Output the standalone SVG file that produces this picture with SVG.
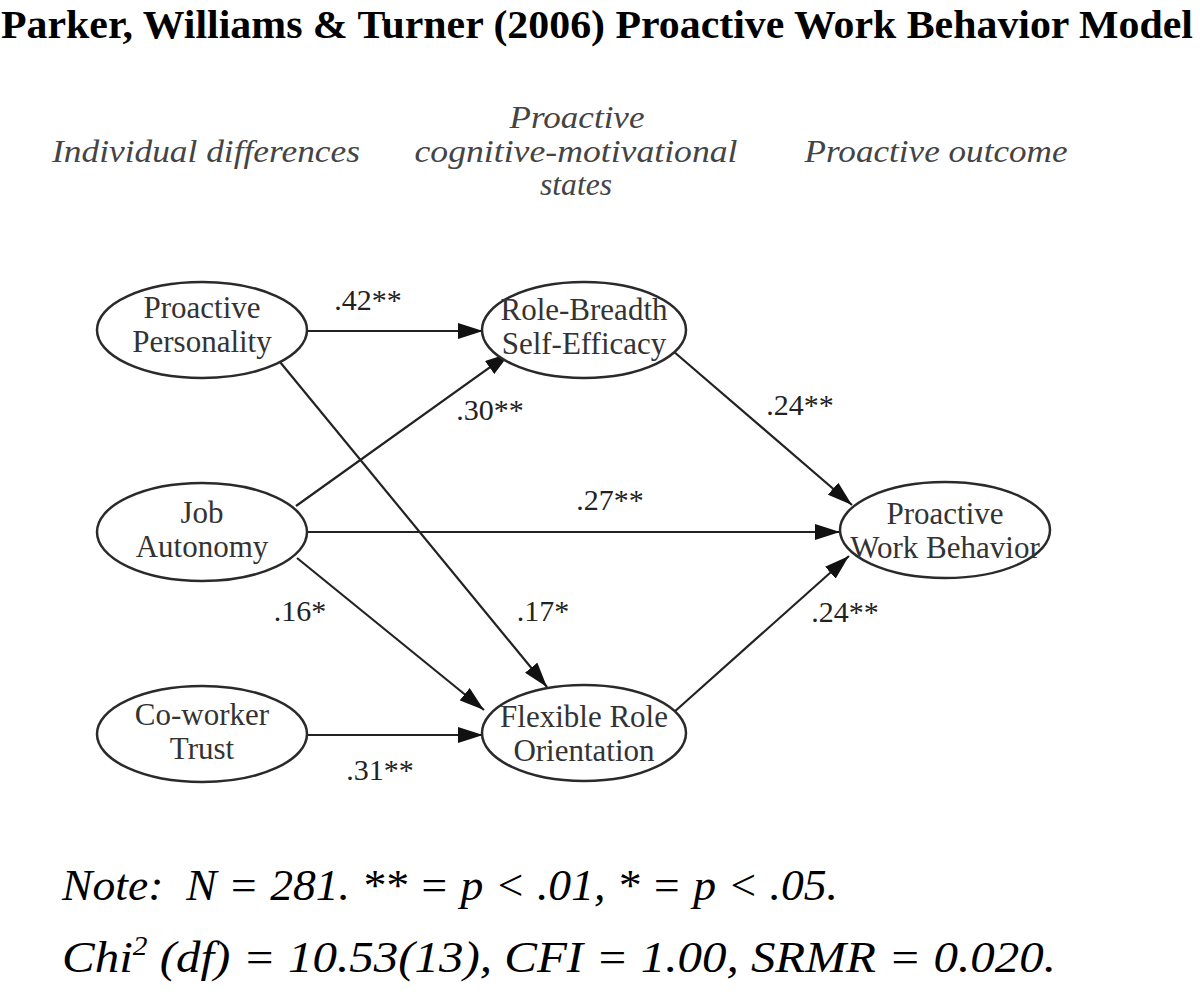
<svg xmlns="http://www.w3.org/2000/svg" width="1200" height="998" viewBox="0 0 1200 998">
<style>
.title{font-family:"Liberation Serif","Times New Roman",serif;font-weight:bold;font-size:41px;fill:#000}
.hdr{font-family:"Liberation Serif","Times New Roman",serif;font-style:italic;font-size:31px;fill:#444;text-anchor:middle}
.node ellipse{fill:#fff;stroke:#2a2a2a;stroke-width:2.5}
.node text{font-family:"Liberation Serif","Times New Roman",serif;font-size:31px;fill:#333;text-anchor:middle}
.edge line{stroke:#222;stroke-width:2.2;marker-end:url(#ah)}
.lbl{font-family:"Liberation Serif","Times New Roman",serif;font-size:30px;fill:#222;text-anchor:middle}
.note{font-family:"Liberation Serif","Times New Roman",serif;font-style:italic;font-size:45px;fill:#000}
</style>
<defs>
<marker id="ah" markerUnits="userSpaceOnUse" markerWidth="26" markerHeight="16" refX="25" refY="8" orient="auto">
<path d="M0,0 L25,8 L0,16 z" fill="#111"/>
</marker>
</defs>
<rect width="1200" height="998" fill="#fff"/>
<text class="title" x="597" y="38" text-anchor="middle" textLength="1192" lengthAdjust="spacingAndGlyphs">Parker, Williams &amp; Turner (2006) Proactive Work Behavior Model</text>
<g id="headers">
<text class="hdr" x="206" y="162" textLength="308" lengthAdjust="spacingAndGlyphs">Individual differences</text>
<text class="hdr" x="577" y="128" textLength="135" lengthAdjust="spacingAndGlyphs">Proactive</text>
<text class="hdr" x="576" y="162" textLength="323" lengthAdjust="spacingAndGlyphs">cognitive-motivational</text>
<text class="hdr" x="576" y="195" textLength="72" lengthAdjust="spacingAndGlyphs">states</text>
<text class="hdr" x="936" y="162" textLength="263" lengthAdjust="spacingAndGlyphs">Proactive outcome</text>
</g>
<g id="connectors" class="edge">
<line x1="307" y1="331" x2="483" y2="331"/>
<line x1="296" y1="506" x2="510" y2="353"/>
<line x1="280" y1="362" x2="547" y2="687"/>
<line x1="307" y1="532" x2="840" y2="532"/>
<line x1="297" y1="558" x2="484" y2="710"/>
<line x1="307" y1="735" x2="483" y2="735"/>
<line x1="673" y1="351" x2="852" y2="505"/>
<line x1="673" y1="713" x2="849" y2="556"/>
</g>
<g id="labels">
<text class="lbl" x="368" y="310">.42**</text>
<text class="lbl" x="490" y="420">.30**</text>
<text class="lbl" x="543" y="621">.17*</text>
<text class="lbl" x="610" y="510">.27**</text>
<text class="lbl" x="300" y="621">.16*</text>
<text class="lbl" x="380" y="780">.31**</text>
<text class="lbl" x="800" y="415">.24**</text>
<text class="lbl" x="845" y="622">.24**</text>
</g>
<g id="node-pp" class="node">
<ellipse cx="202" cy="330" rx="105" ry="48"/>
<text x="202" y="318">Proactive</text>
<text x="202" y="352">Personality</text>
</g>
<g id="node-rbse" class="node">
<ellipse cx="584" cy="330" rx="102" ry="48"/>
<text x="584" y="320">Role-Breadth</text>
<text x="584" y="354">Self-Efficacy</text>
</g>
<g id="node-ja" class="node">
<ellipse cx="202" cy="532" rx="105" ry="49"/>
<text x="202" y="523">Job</text>
<text x="202" y="557">Autonomy</text>
</g>
<g id="node-ct" class="node">
<ellipse cx="202" cy="734" rx="105" ry="48"/>
<text x="202" y="725">Co-worker</text>
<text x="202" y="759">Trust</text>
</g>
<g id="node-fro" class="node">
<ellipse cx="584" cy="733" rx="102" ry="48"/>
<text x="584" y="727">Flexible Role</text>
<text x="584" y="761">Orientation</text>
</g>
<g id="node-pwb" class="node">
<ellipse cx="945" cy="530" rx="105" ry="48"/>
<text x="945" y="524">Proactive</text>
<text x="945" y="558">Work Behavior</text>
</g>
<g id="note">
<text class="note" x="62" y="900" textLength="776" lengthAdjust="spacingAndGlyphs" xml:space="preserve">Note:  N = 281. ** = p &lt; .01, * = p &lt; .05.</text>
<text class="note" x="62" y="972" textLength="994" lengthAdjust="spacingAndGlyphs">Chi<tspan dy="-17" font-size="27">2</tspan><tspan dy="17"> (df) = 10.53(13), CFI = 1.00, SRMR = 0.020.</tspan></text>
</g>
</svg>
